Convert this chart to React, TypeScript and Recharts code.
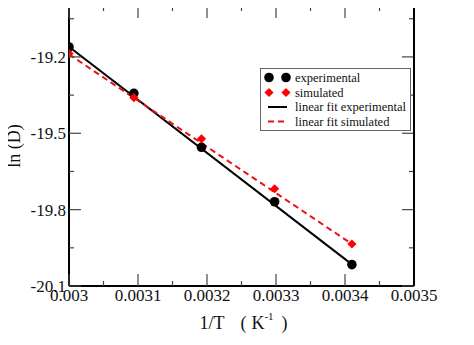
import { ComposedChart, Scatter, Line, XAxis, YAxis, Legend, ReferenceLine } from "recharts";

const invT = [0.003, 0.003094, 0.003192, 0.003298, 0.00341];
const lnDExperimental = [-19.161, -19.343, -19.555, -19.769, -20.016];
const lnDSimulated = [-19.187, -19.36, -19.522, -19.718, -19.935];

const fitInvT = [0.003, 0.00341];
const fitExperimental = [-19.16, -20.015];
const fitSimulated = [-19.19, -19.935];

const xTicks = [0.003, 0.00305, 0.0031, 0.00315, 0.0032, 0.00325, 0.0033, 0.00335, 0.0034, 0.00345, 0.0035];
const xLabels = ["0.003", "0.0031", "0.0032", "0.0033", "0.0034", "0.0035"];
const yTicks = [-20.1, -19.95, -19.8, -19.65, -19.5, -19.35, -19.2, -19.05];
const yLabels = ["-20.1", "-19.8", "-19.5", "-19.2"];

const FONT = "Liberation Serif";
const TICK_COLOR = "#444";
const W = 474;
const H = 345;
const MARGIN = { top: 6, right: 60, bottom: 0, left: 0 };
const X_AXIS_H = 59;
const Y_AXIS_W = 69;
// plot edges, used to mirror the ticks onto the top and right frame
const PLOT_TOP = MARGIN.top;
const PLOT_RIGHT = W - MARGIN.right;

const expData = invT.map((x, i) => ({ x, y: lnDExperimental[i] }));
const simData = invT.map((x, i) => ({ x, y: lnDSimulated[i] }));
const expFit = fitInvT.map((x, i) => ({ x, y: fitExperimental[i] }));
const simFit = fitInvT.map((x, i) => ({ x, y: fitSimulated[i] }));

const findLabel = (v: number, labels: string[]) =>
    labels.find((l) => Math.abs(Number(l) - v) < 1e-9);

const LeftTick = (props: any) => {
    const { x, y, payload } = props;
    const label = findLabel(payload.value, yLabels);
    const len = label ? 12 : 5;
    return (
        <g>
            <line x1={x} y1={y} x2={x + len} y2={y} stroke={TICK_COLOR} strokeWidth={1.2} />
            <line x1={PLOT_RIGHT} y1={y} x2={PLOT_RIGHT - len} y2={y} stroke={TICK_COLOR} strokeWidth={1.2} />
            {label && (
                <text x={x - 3} y={y} dy="0.35em" textAnchor="end" fontFamily={FONT} fontSize={17} fill="#111">
                    {label}
                </text>
            )}
        </g>
    );
};

const BottomTick = (props: any) => {
    const { x, y, payload } = props;
    const label = findLabel(payload.value, xLabels);
    const len = label ? 12 : 5;
    return (
        <g>
            <line x1={x} y1={y} x2={x} y2={y - len} stroke={TICK_COLOR} strokeWidth={1.2} />
            <line x1={x} y1={PLOT_TOP} x2={x} y2={PLOT_TOP + len} stroke={TICK_COLOR} strokeWidth={1.2} />
            {label && (
                <text x={x} y={y + 15} textAnchor="middle" fontFamily={FONT} fontSize={17} fill="#111">
                    {label}
                </text>
            )}
        </g>
    );
};

const XTitle = (props: any) => {
    const vb = props.viewBox;
    return (
        <text x={vb.x + vb.width / 2 + 2} y={vb.y + 43} textAnchor="middle" fontFamily={FONT} fontSize={18} fill="#111">
            <tspan>1/T</tspan>
            <tspan dx={16}>(</tspan>
            <tspan dx={5}>K</tspan>
            <tspan dy={-9} fontSize={11}>-1</tspan>
            <tspan dy={9} dx={8}>)</tspan>
        </text>
    );
};

const YTitle = (props: any) => {
    const vb = props.viewBox;
    const cx = 14;
    const cy = vb.y + vb.height / 2;
    return (
        <text x={cx} y={cy} transform={`rotate(-90 ${cx} ${cy})`} dy="0.35em" textAnchor="middle" fontFamily={FONT} fontSize={18} fill="#111">
            ln (D)
        </text>
    );
};

const Circle = (props: any) => <circle cx={props.cx} cy={props.cy} r={4.8} fill="#000" />;
const Diamond = (props: any) => {
    const { cx, cy } = props;
    const r = 4.6;
    return <polygon points={`${cx},${cy - r} ${cx + r},${cy} ${cx},${cy + r} ${cx - r},${cy}`} fill="#ff0000" />;
};

const legendItems = [
    { label: "experimental", kind: "circle" },
    { label: "simulated", kind: "diamond" },
    { label: "linear fit experimental", kind: "solid" },
    { label: "linear fit simulated", kind: "dashed" },
];

const LegendBox = () => {
    const rows = [9.5, 24.5, 39, 53.5];
    return (
        <svg width={151} height={63} style={{ display: "block" }}>
            <rect x={0.5} y={0.5} width={150} height={62} fill="#fff" stroke="#666" strokeWidth={1} />
            {legendItems.map((it, i) => {
                const y = rows[i];
                return (
                    <g key={it.label}>
                        {it.kind === "circle" && (
                            <>
                                <Circle cx={9} cy={y} />
                                <Circle cx={26} cy={y} />
                            </>
                        )}
                        {it.kind === "diamond" && (
                            <>
                                <Diamond cx={9} cy={y} />
                                <Diamond cx={26} cy={y} />
                            </>
                        )}
                        {it.kind === "solid" && <line x1={8} y1={y} x2={27} y2={y} stroke="#000" strokeWidth={2} />}
                        {it.kind === "dashed" && (
                            <line x1={8} y1={y} x2={27} y2={y} stroke="#ee1111" strokeWidth={2} strokeDasharray="6 4" />
                        )}
                        <text x={35} y={y} dy="0.33em" fontFamily={FONT} fontSize={12.5} fill="#111">
                            {it.label}
                        </text>
                    </g>
                );
            })}
        </svg>
    );
};

export default function App() {
    return (
        <div style={{ margin: -8, width: W, height: H, background: "#fff", position: "relative" }}>
            <ComposedChart width={W} height={H} margin={MARGIN}>
                <XAxis
                    dataKey="x"
                    type="number"
                    domain={[0.003, 0.0035]}
                    ticks={xTicks}
                    interval={0}
                    height={X_AXIS_H}
                    tickSize={0}
                    tickMargin={0}
                    tickLine={false}
                    tick={<BottomTick />}
                    axisLine={{ stroke: "#000", strokeWidth: 2 }}
                    allowDataOverflow
                    label={{ content: XTitle }}
                />
                <YAxis
                    dataKey="y"
                    type="number"
                    domain={[-20.1, -19.0]}
                    ticks={yTicks}
                    interval={0}
                    width={Y_AXIS_W}
                    tickSize={0}
                    tickMargin={0}
                    tickLine={false}
                    tick={<LeftTick />}
                    axisLine={{ stroke: "#000", strokeWidth: 2 }}
                    allowDataOverflow
                    label={{ content: YTitle }}
                />
                {/* top and right frame */}
                <ReferenceLine y={-19.0} stroke="#000" strokeWidth={2} ifOverflow="visible" />
                <ReferenceLine x={0.0035} stroke="#000" strokeWidth={2} ifOverflow="visible" />
                <Line
                    data={expFit}
                    dataKey="y"
                    type="linear"
                    stroke="#000"
                    strokeWidth={2}
                    dot={false}
                    activeDot={false}
                    isAnimationActive={false}
                />
                <Line
                    data={simFit}
                    dataKey="y"
                    type="linear"
                    stroke="#ee1111"
                    strokeWidth={2}
                    strokeDasharray="6 4"
                    dot={false}
                    activeDot={false}
                    isAnimationActive={false}
                />
                <Scatter data={expData} dataKey="y" shape={<Circle />} isAnimationActive={false} />
                <Scatter data={simData} dataKey="y" shape={<Diamond />} isAnimationActive={false} />
                <Legend
                    layout="vertical"
                    align="center"
                    verticalAlign="middle"
                    content={() => <LegendBox />}
                    wrapperStyle={{ left: 260, top: 68, width: 151, height: 63 }}
                />
            </ComposedChart>
            {/* frame fallback over the plot edges */}
            <div
                style={{
                    position: "absolute",
                    left: Y_AXIS_W,
                    top: PLOT_TOP - 1,
                    width: PLOT_RIGHT - Y_AXIS_W + 1,
                    height: H - X_AXIS_H - PLOT_TOP + 1,
                    borderTop: "2px solid #000",
                    borderRight: "2px solid #000",
                    boxSizing: "border-box",
                    pointerEvents: "none",
                }}
            />
        </div>
    );
}
